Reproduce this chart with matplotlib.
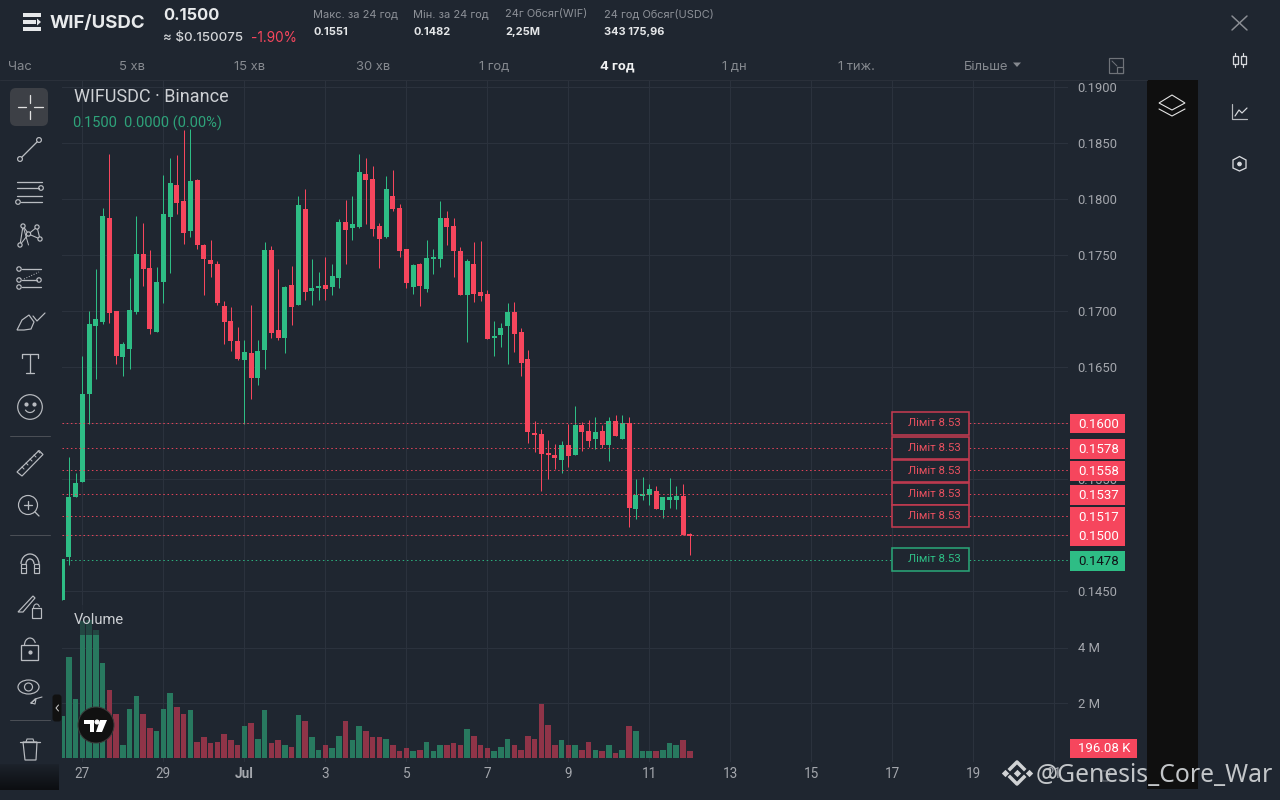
import numpy as np
import matplotlib
matplotlib.use('Agg')
import matplotlib.pyplot as plt
from matplotlib.patches import Rectangle, FancyBboxPatch, Circle, Polygon, Ellipse, Arc

# 4h candles, first one is three bars before Jun 27 00:00
opens = [.14419, .14804, .15339, .15473, .16259, .16866, .16902, .17830, .17000, .16589,
         .16661, .16991, .17509, .17384, .16812, .17259, .17839, .18125, .17982, .17714,
         .18170, .17589, .17455, .17420, .17045, .16911, .16732, .16562, .16625, .16402,
         .16652, .17545, .16830, .16759, .17232, .17054, .17911, .17178, .17205, .17232,
         .17214, .17295, .17795, .17741, .17750, .18223, .18179, .17759, .17661, .18027,
         .17920, .17553, .17214, .17420, .17196, .17464, .17464, .17830, .17759, .17536,
         .17143, .17420, .17170, .17152, .16759, .16786, .16866, .16991, .16812, .16571,
         .15911, .15902, .15732, .15714, .15670, .15804, .15714, .15982, .15928, .15857,
         .15928, .15804, .16018, .15857, .16000, .15232, .15348, .15357, .15393, .15223,
         .15313, .15313, .15348, .15009]
highs = [.14786, .15696, .15554, .16598, .17000, .17375, .17920, .18402, .17000, .16723,
         .17295, .17848, .17786, .17545, .17393, .18214, .18366, .18393, .18616, .18625,
         .18179, .17598, .17634, .17446, .17089, .17036, .16857, .16741, .17054, .16741,
         .17616, .17580, .17375, .17223, .17402, .18027, .18089, .17464, .17348, .17482,
         .17420, .17821, .17991, .18027, .18402, .18366, .18295, .17786, .18205, .18259,
         .17955, .17553, .17420, .17429, .17634, .17553, .17982, .17893, .17830, .17571,
         .17464, .17616, .17625, .17187, .16911, .16893, .17071, .17080, .16848, .16652,
         .16018, .15946, .15848, .15813, .15839, .15991, .16152, .16009, .16027, .16054,
         .15982, .16054, .16071, .16071, .16054, .15500, .15518, .15455, .15437, .15339,
         .15509, .15437, .15455, .15018]
lows = [.14419, .14732, .15339, .15473, .15991, .16393, .16884, .16893, .16527, .16420,
        .16482, .16973, .17223, .16795, .16812, .17071, .17339, .17866, .17598, .17661,
        .17553, .17143, .17304, .17054, .16705, .16643, .16562, .15991, .16214, .16339,
        .16482, .16759, .16741, .16625, .16875, .17054, .17098, .17054, .17098, .17098,
        .17143, .17205, .17420, .17634, .17741, .17777, .17670, .17384, .17652, .17893,
        .17482, .17205, .17152, .17045, .17170, .17330, .17393, .17589, .17304, .17143,
        .16723, .17080, .17089, .16750, .16598, .16679, .16527, .16634, .16420, .15821,
        .15741, .15393, .15500, .15589, .15554, .15607, .15714, .15750, .15786, .15768,
        .15777, .15661, .15884, .15857, .15071, .15143, .15313, .15268, .15232, .15152,
        .15241, .15232, .15000, .14821]
closes = [.14786, .15339, .15464, .16259, .16884, .16928, .17848, .16982, .16598, .16705,
          .17009, .17509, .17375, .16839, .17259, .17866, .18143, .17964, .17696, .18161,
          .17589, .17464, .17420, .17071, .16902, .16732, .16571, .16634, .16402, .16643,
          .17545, .16804, .16759, .17214, .17036, .17946, .17170, .17205, .17223, .17196,
          .17312, .17795, .17723, .17777, .18241, .18170, .17732, .17643, .18089, .17911,
          .17536, .17250, .17411, .17223, .17473, .17482, .17830, .17750, .17536, .17143,
          .17446, .17152, .17134, .16750, .16777, .16848, .16991, .16795, .16536, .15920,
          .15893, .15723, .15714, .15687, .15804, .15705, .15982, .15920, .15839, .15920,
          .15804, .16018, .15884, .16000, .15241, .15357, .15366, .15411, .15232, .15339,
          .15339, .15348, .15000, .14991]
volumes = [1.5, 3.64, 2.11, 4.95, 5.0, 4.65, 3.42, 2.44, 1.6, .47,
           1.75, 2.25, 1.6, 1.09, .98, 1.78, 2.33, 1.82, 1.6, 1.71,
           .58, .76, .51, .55, .87, .62, .47, 1.13, 1.24, .69,
           1.71, .51, .65, .47, .40, 1.53, 1.31, .76, .29, .44,
           .36, .80, 1.31, .65, 1.16, .95, .76, .76, .69, .47,
           .25, .33, .22, .29, .55, .22, .44, .47, .51, .44,
           1.02, .80, .44, .33, .25, .40, .69, .44, .29, .80,
           .69, 1.96, 1.20, .44, .65, .44, .47, .29, .55, .29,
           .22, .44, .18, .29, 1.13, .95, .25, .22, .25, .29,
           .51, .44, .62, .25]
first_index = -3

price_ticks = [.19, .185, .18, .175, .17, .165, .16, .155, .15, .145]
date_ticks = [0, 12, 24, 36, 48, 60, 72, 84, 96, 108, 120, 132, 144]
date_labels = ['27', '29', 'Jul', '3', '5', '7', '9', '11', '13', '15', '17', '19', '21']
volume_ticks = [2, 4]
volume_labels = ['2 M', '4 M']
order_prices = [.1600, .1578, .1558, .1537, .1517, .1478]
order_colors = ['red', 'red', 'red', 'red', 'red', 'green']
last_price = .1500

BG = '#1f2630'
GRID = '#2b323d'
GREEN = '#2ebd85'
RED = '#f6465d'
ICON = '#b9bcc1'
W, H = 1280, 800
plt.rcParams['font.family'] = ['Roboto', 'DejaVu Sans']


def px(size):
    return size * 72 / 100


fig = plt.figure(figsize=(12.8, 8), dpi=100, facecolor=BG)


def add_ax(left, right, top, bottom):
    return fig.add_axes([left / W, 1 - bottom / H, (right - left) / W, (bottom - top) / H])


X0, BAR_STEP = 82.3, 6.75
LEFT, RIGHT = 62, 1068
xs = first_index + np.arange(len(opens))
xlim = ((LEFT - X0) / BAR_STEP, (RIGHT - X0) / BAR_STEP)
colors = [GREEN if c >= o else RED for o, c in zip(opens, closes)]
vol_colors = ['#28795f' if c >= o else '#8f3448' for o, c in zip(opens, closes)]

# price pane
ax = add_ax(LEFT, RIGHT, 80, 603)
ax.set_facecolor(BG)
ax.set_xlim(xlim)
ax.set_ylim(.19 - (603 - 87) / 11200, .19 + 7 / 11200)
ax.vlines(xs, lows, highs, colors=colors, lw=px(1), zorder=3)
ax.bar(xs, np.abs(np.array(closes) - np.array(opens)), bottom=np.minimum(opens, closes),
       width=5 / BAR_STEP, color=colors, lw=0, zorder=3)
for p, c in zip(order_prices + [last_price], order_colors + ['red']):
    ax.axhline(p, color=GREEN if c == 'green' else RED, lw=px(1), ls=(0, (1.5, 2.7)), alpha=.9, zorder=4)
ax.set_xticks(date_ticks)
ax.set_xticklabels([])
ax.set_yticks(price_ticks)
ax.set_yticklabels(['%.4f' % p for p in price_ticks], color='#a4a7ad', fontsize=px(13))
ax.yaxis.tick_right()
ax.tick_params(length=0, pad=px(9.5), bottom=False)
ax.grid(True, color=GRID, lw=px(1))
ax.set_axisbelow(True)
for s in ax.spines.values():
    s.set_visible(False)

# volume pane
vax = add_ax(LEFT, RIGHT, 603, 762)
vax.set_facecolor('none')
vax.set_xlim(xlim)
vax.set_ylim(-4.5 / 27.5, 154.5 / 27.5)
vax.bar(xs, volumes, width=5.6 / BAR_STEP, color=vol_colors, lw=0, zorder=3)
vax.set_xticks(date_ticks)
vax.set_xticklabels(date_labels, color='#a4a7ad', fontsize=px(13.5))
vax.get_xticklabels()[2].set_fontweight('bold')
vax.set_yticks(volume_ticks)
vax.set_yticklabels(volume_labels, color='#a4a7ad', fontsize=px(13))
vax.yaxis.tick_right()
vax.tick_params(axis='y', length=0, pad=px(9.5))
vax.tick_params(axis='x', length=0, pad=px(5))
vax.grid(True, color=GRID, lw=px(1))
vax.set_axisbelow(True)
for s in vax.spines.values():
    s.set_visible(False)

# everything around the chart sits on a pixel overlay
ui = fig.add_axes([0, 0, 1, 1], zorder=10)
ui.patch.set_alpha(0)
ui.axis('off')


def label(x, y, s, size=12, color='#ffffff', ha='left', weight='normal', family=None):
    ui.text(x, y, s, fontsize=px(size), color=color, ha=ha, va='center', fontweight=weight,
            family=family or ['Roboto', 'DejaVu Sans'], zorder=6)


def stroke(xx, yy, color=ICON, lw=1.3, **kw):
    ui.plot(xx, yy, color=color, lw=px(lw), solid_capstyle='round', zorder=5, **kw)


def ring(x, y, r, color=ICON, lw=1.2, face='none'):
    ui.add_patch(Circle((x, y), r, fc=face, ec=color, lw=px(lw), zorder=5))


def box(x0, y0, x1, y1, fc=BG, ec='none', lw=1.0, z=2):
    ui.add_patch(Rectangle((x0, y0), x1 - x0, y1 - y0, fc=fc, ec=ec, lw=px(lw), zorder=z))


def shape(pts, fc='none', ec=ICON, lw=1.2, z=5):
    ui.add_patch(Polygon(pts, fc=fc, ec=ec, lw=px(lw), zorder=z))


# dark strip under the toolbar
strip = np.linspace(0, 1, 26)[:, None]
ui.imshow(strip, extent=(0, 59, 790, 764), cmap=matplotlib.colors.LinearSegmentedColormap.from_list(
    'strip', ['#1c222b', '#0c0e11']), aspect='auto', zorder=1)
ui.set_xlim(0, W)
ui.set_ylim(H, 0)

# header
for yy, xe in [(15, 41), (22, 36), (29, 41)]:
    box(23, yy - 1.7, xe, yy + 1.7, fc='#e6e8ea')
shape([(37, 18.5), (41, 22), (37, 25.5)], fc='#e6e8ea', ec='none')
label(50, 23, 'WIF/USDC', 18.6, '#e8eaec', weight='bold', family='Inter')
label(163, 15.5, '0.1500', 16.5, '#e8eaec', weight='bold', family='Inter')
label(163, 38, '≈ $0.150075', 13.3, '#d4d6d9', weight='medium', family='Inter')
label(251, 38, '-1.90%', 13.6, RED, family='Inter')
stat_x = [313, 413, 505, 604]
stat_names = ['Макс. за 24 год', 'Мін. за 24 год', '24г Обсяг(WIF)', '24 год Обсяг(USDC)']
stat_values = ['0.1551', '0.1482', '2,25M', '343 175,96']
for x, n, v in zip(stat_x, stat_names, stat_values):
    label(x, 14, n, 11, '#8d9198', family='Inter')
    label(x, 32, v, 11, '#e4e6e8', weight='bold', family='Inter')
stroke([1232, 1247], [16, 30], '#8b8e94', 1.5)
stroke([1232, 1247], [30, 16], '#8b8e94', 1.5)

# interval row
label(8, 66.5, 'Час', 13, '#85898f', family='Inter')
frames = ['5 хв', '15 хв', '30 хв', '1 год', '1 дн', '1 тиж.']
frame_x = [132, 250, 373, 494, 734, 856]
for x, f in zip(frame_x, frames):
    label(x, 66.5, f, 13, '#85898f', ha='center', family='Inter')
label(617, 66.5, '4 год', 13, '#f0f1f2', ha='center', weight='bold', family='Inter')
label(964, 66.5, 'Більше', 13, '#85898f', family='Inter')
shape([(1013, 62.5), (1021, 62.5), (1017, 67)], fc='#85898f', ec='none')
box(1109, 58, 1123, 73, fc='none', ec='#6f7379', lw=1.2)
box(1117, 67, 1123, 73, fc=BG, ec='#6f7379', lw=1.2, z=3)
stroke([1112, 1117], [61, 66], '#6f7379', 1)
stroke([0, 1147], [80, 80], '#2a303a', 1)

# side panels
box(1147, 80, 1198, 789, fc='#0f0f0f')
shape([(1172, 95), (1185, 103), (1172, 110), (1159, 103)], ec='#e4e4e4', lw=1.1)
stroke([1159, 1172, 1185], [109, 116, 109], '#e4e4e4', 1.1)
# right strip icons
for x in [1235, 1243]:
    stroke([x, x], [53, 67], '#d8dade', 1.2)
    box(x - 2.5, 56, x + 2.5, 64, fc=BG, ec='#d8dade', lw=1.3, z=6)
stroke([1232, 1232, 1247], [104, 119, 119], '#b5b8bc', 1.2)
stroke([1235, 1239, 1242, 1247], [116, 110, 113, 108], '#d8dade', 1.2)
shape([(1239.5, 156.5), (1246, 160), (1246, 168), (1239.5, 171), (1233, 168), (1233, 160)],
      ec='#d8dade', lw=1.3)
ring(1239.5, 164, 1.8, '#d8dade', 1, '#d8dade')

# left toolbar
ui.add_patch(FancyBboxPatch((13, 91), 32, 32, boxstyle='round,pad=3,rounding_size=6', fc='#3d4046', ec='none'))
stroke([30, 30], [95, 103], '#e0e0e0')
stroke([30, 30], [111, 119], '#e0e0e0')
stroke([18, 26], [107, 107], '#e0e0e0')
stroke([34, 43], [107, 107], '#e0e0e0')
# trend line
stroke([22, 37], [157, 142])
ring(20, 159, 2.4)
ring(39, 140, 2.4)
# fib lines
for yy, x0, x1 in [(182, 17, 42), (188, 17, 39), (196, 17, 42), (202, 21, 42)]:
    stroke([x0, x1], [yy, yy])
ring(41, 188, 2.3)
ring(18, 202, 2.3)
# pattern
stroke([20, 23, 28.5, 37, 40, 28.5, 20], [245, 226, 234, 227, 239, 234, 245], lw=1.1)
stroke([23, 28.5], [226, 245], lw=1)
for a, b in [(20, 245), (23, 226), (28.5, 234), (37, 227), (40, 239)]:
    ring(a, b, 2.1, face=BG)
# forecast
for yy, x0, x1 in [(269, 22, 41), (280, 22, 37), (287, 22, 41)]:
    stroke([x0, x1], [yy, yy])
stroke([24, 39], [279, 272], lw=1, ls=':')
for a, b in [(19, 269), (19, 280), (19, 287), (39, 280)]:
    ring(a, b, 2.2)
# brush
shape([(17, 330), (22, 320), (29, 315), (34, 322), (31, 329), (24, 330)])
stroke([33, 37, 45], [316, 321, 313], lw=1.2)
# text tool
stroke([22, 22, 38, 38], [358, 354, 354, 358])
stroke([30, 30], [354, 373])
stroke([26, 34], [373, 373])
# smile
ring(30, 407, 12.3)
ui.plot([26, 34], [404, 404], ls='none', marker='o', ms=2, color=ICON)
ui.add_patch(Arc((30, 408), 10, 9, theta1=20, theta2=160, ec=ICON, lw=px(1.2)))
for yy in [436, 535, 720]:
    stroke([10, 50], [yy, yy], '#4a4e55', 1)
# ruler
shape([(17, 472), (39, 450.5), (43, 454.5), (22, 476)])
for t in np.arange(22, 40, 4):
    stroke([t, t + 2], [472 - (t - 17), 474 - (t - 17)], lw=1)
# zoom
ring(28, 505, 9.5)
stroke([35, 39], [512, 516])
stroke([24, 32], [505, 505])
stroke([28, 28], [501, 509])
# magnet
ui.add_patch(Arc((30, 564), 18, 20, theta1=180, theta2=360, ec=ICON, lw=px(1.3)))
ui.add_patch(Arc((30, 564), 8, 10, theta1=180, theta2=360, ec=ICON, lw=px(1.3)))
box(21, 564, 26, 573, fc='none', ec=ICON, lw=1.2)
box(34, 564, 39, 573, fc='none', ec=ICON, lw=1.2)
stroke([21, 26], [568, 568], lw=1)
stroke([34, 39], [568, 568], lw=1)
# pencil and lock
shape([(18, 612), (33, 596), (35, 598), (23, 612), (18, 612)])
box(32, 608, 41, 618, fc='none', ec=ICON, lw=1.2)
ui.add_patch(Arc((36.5, 608), 6, 8, theta1=180, theta2=340, ec=ICON, lw=px(1.1)))
# padlock
box(21, 645, 38, 660, fc='none', ec=ICON, lw=1.3)
ui.add_patch(Arc((30, 645), 11, 14, theta1=180, theta2=340, ec=ICON, lw=px(1.2)))
ui.plot([30], [652], marker='o', ms=2, color=ICON)
# eye
ui.add_patch(Ellipse((28.5, 687), 21, 14, fc='none', ec=ICON, lw=px(1.2)))
ring(28.5, 687, 4)
stroke([31, 35, 42], [703, 699, 697], lw=1.1)
stroke([31, 35, 36, 31], [703, 704, 699, 703], lw=1.1)
# trash
stroke([20, 40], [742, 742])
shape([(23, 742), (37, 742), (36, 760), (25, 760)])
stroke([26, 27, 33, 34], [742, 739, 739, 742], lw=1.1)

# collapse button
ui.add_patch(FancyBboxPatch((54, 696), 6, 24, boxstyle='round,pad=1.5,rounding_size=3', fc='#111111', ec='none'))
stroke([58.5, 56, 58.5], [705, 708, 711], '#cccccc', 1)

# chart legends
label(74, 97, 'WIFUSDC · Binance', 18, '#cdd0d4')
label(72, 123, '0.1500', 14.6, '#2ea37a')
label(124, 123, '0.0000 (0.00%)', 14.6, '#2ea37a')
box(62, 605, 103, 635, fc=BG + '99', z=1)
label(74, 620, 'Volume', 14.7, '#cdd0d4')

# order boxes and tags
box_y = [(412, 435), (437, 459), (460, 482), (483, 505), (505, 527), (548, 571)]
for (y0, y1), c in zip(box_y, order_colors):
    edge = '#2aa477' if c == 'green' else '#c23a50'
    box(892, y0, 969, y1, fc=BG, ec=edge, lw=1.6)
    label(934, (y0 + y1) / 2, 'Ліміт 8.53', 11.5, GREEN if c == 'green' else '#e8505f', ha='center')
tag_y = [423.5, 449, 471, 495, 517, 536.5, 561]
tag_text = ['%.4f' % p for p in order_prices[:5]] + ['%.4f' % last_price, '%.4f' % order_prices[5]]
for yy, s in zip(tag_y, tag_text):
    green = s == '%.4f' % order_prices[5]
    box(1070, yy - 9.8, 1125, yy + 9.8, fc=GREEN if green else RED)
    label(1078, yy + .5, s, 13.2, '#101418' if green else '#ffffff', family='Roboto')
box(1070, 739, 1137, 758, fc=RED)
label(1078, 749, '196.08 K', 13.2, '#ffffff')

# TradingView badge
ring(96, 725, 18, '#3a3a3a', 1, '#111111')
box(84, 720, 94, 724, fc='#ffffff', z=6)
box(90, 720, 94, 732, fc='#ffffff', z=6)
shape([(100, 720), (107, 720), (102, 732), (96, 732)], fc='#ffffff', ec='none', z=6)
ring(97, 722, 2, '#ffffff', 1, '#ffffff')

# watermark
shape([(1101, 771), (1110, 771), (1108, 781), (1103, 781)], ec='#6c7178', lw=1, z=6)
for a, b, s in [(1005, 773, 14), (1029, 773, 14), (1017, 773, 14)]:
    ui.scatter([a], [b], marker='D', s=s, color='#d0d2d4', linewidths=0, zorder=7)
for pts in [[(1010, 769), (1017, 762), (1024, 769)], [(1010, 777), (1017, 784), (1024, 777)]]:
    ui.plot(*zip(*pts), color='#d0d2d4', lw=px(3.5), zorder=7)
ui.text(1036, 775, '@Genesis_Core_War', fontsize=px(24.7), color='#c3c6c9', va='center', ha='left',
        family='Noto Sans', zorder=8)

fig.savefig('out.png', dpi=100, facecolor=BG)
